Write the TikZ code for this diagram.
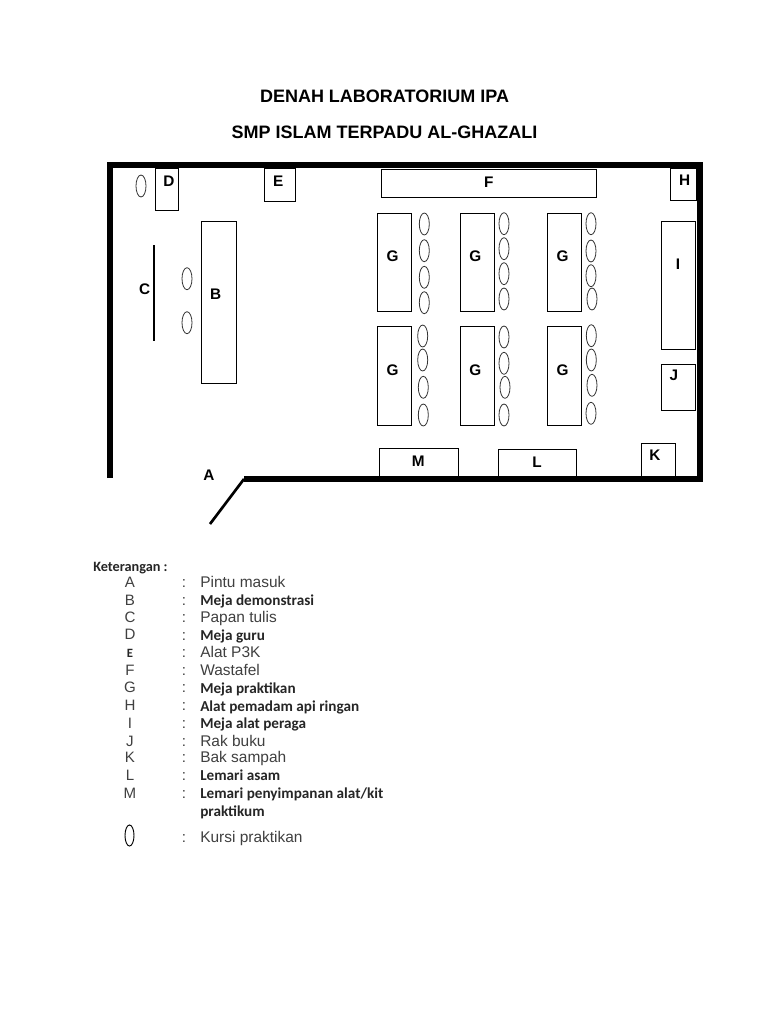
\documentclass[tikz,border=0pt]{standalone}
\usepackage{fontspec}
\setmainfont{Liberation Sans}
\newfontfamily\calib{Carlito}
\definecolor{lgtext}{gray}{0.25}
\tikzset{
  wall/.style={line width=4.5pt,line cap=butt,black},
  furn/.style={draw=black,line width=0.7pt,fill=white},
  lab/.style={font=\fontsize{11.5pt}{13pt}\selectfont\bfseries,inner sep=0pt},
  ttl/.style={font=\fontsize{13.5pt}{15pt}\selectfont\bfseries,inner sep=0pt},
  row/.style={text height=8pt,text depth=0.5pt,inner sep=0pt},
  key/.style={row,font=\fontsize{11.3pt}{13pt}\selectfont,text=lgtext},
  colon/.style={row,font=\fontsize{11.3pt}{13pt}\selectfont,text=lgtext},
  ar/.style={row,font=\fontsize{11.6pt}{13pt}\selectfont,text=lgtext,anchor=west},
  cb/.style={row,font=\calib\fontsize{11.4pt}{13pt}\selectfont\bfseries,text=black!85,anchor=west},
}
\begin{document}
\begin{tikzpicture}[x=0.75pt,y=-0.75pt]
\useasboundingbox (0,0) rectangle (768,1024);
\fill[white] (0,0) rectangle (768,1024);
% titles
\node[ttl] (t1) at (384.5,96.5) {DENAH LABORATORIUM IPA};
\node[ttl] (t2) at (384.5,132.5) {SMP ISLAM TERPADU AL-GHAZALI};
% furniture
\foreach \a/\b/\c/\d in {155/168/178.3/210.7, 264/168/295.3/201, 201.3/221/236/383, 381.3/169.3/596.7/197.3,
  377.3/213.3/411.7/311.3, 460/213.3/494.3/311.3, 547/213.3/581.3/311.3,
  377.3/326.7/411.7/425.7, 460/326.7/494.3/425.7, 547/326.7/581.3/425.7,
  670.3/168/696/200.3, 661.3/221.3/695.3/349.3, 661.3/364/695.3/410.3,
  641/443.7/675.3/477, 498.7/449.3/576.3/477, 379.3/448.3/458.3/477}
  \draw[furn] (\a,\b) rectangle (\c,\d);
% chairs
\foreach \x/\y in {141/186, 187/278.7, 187/322.7,
  424.3/224, 424.3/250.7, 424.3/277.3, 424.3/302.7,
  422.7/336, 422.7/360, 423.3/387.3, 423.3/415,
  504/223.7, 504/248.7, 504/273.7, 504/299,
  504/337, 504/363.3, 505/387.3, 504/415,
  591/223.7, 591/251, 591/275.7, 592/299,
  591.3/335.7, 591.3/360, 592/385.3, 591/413.3}
  \draw[draw=black!80,line width=0.6pt,fill=white] (\x,\y) ellipse [x radius=5,y radius=11];
% walls
\coordinate (w1) at (110.3,478);
\coordinate (w2) at (110.3,165);
\coordinate (w3) at (700,165);
\coordinate (w4) at (700,479);
\coordinate (w5) at (244,479);
\coordinate (door) at (210,524);
\draw[wall,line join=miter] (w1) -- (w2) -- (w3) -- (w4) -- (w5);
\draw[line width=2pt,black] (w5) -- (door);
% board
\coordinate (c1) at (154,245);
\coordinate (c2) at (154,340.7);
\draw[line width=2pt,black] (c1) -- (c2);
% labels
\node[lab] (la) at (209,475) {A};
\node[lab] (lb) at (215.7,294.7) {B};
\node[lab] (lc) at (144.7,289.3) {C};
\node[lab] (ld) at (169,181.7) {D};
\node[lab] (le) at (278.3,181.7) {E};
\node[lab] (lf) at (488.7,182.3) {F};
\node[lab] (lg1) at (392.7,256.7) {G};
\node[lab] (lg2) at (475.3,256.7) {G};
\node[lab] (lg3) at (562.7,256.7) {G};
\node[lab] (lg4) at (392.7,370.7) {G};
\node[lab] (lg5) at (475.3,370.7) {G};
\node[lab] (lg6) at (562.7,370.7) {G};
\node[lab] (lh) at (684.7,180.7) {H};
\node[lab] (li) at (678,264.3) {I};
\node[lab] (lj) at (674,375.7) {J};
\node[lab] (lk) at (655,455) {K};
\node[lab] (ll) at (537,462.3) {L};
\node[lab] (lm) at (418.3,461.3) {M};
% legend
\node[cb,font=\calib\fontsize{10.7pt}{13pt}\selectfont\bfseries] (ket) at (93,566) {Keterangan :};
\foreach \n/\l/\y in {a/A/582.5, b/B/600, c/C/617.5, d/D/634.5, f/F/670, g/G/687.5, h/H/705, i/I/723, j/J/741, k/K/757.5, l/L/775, m/M/793}
  \node[key] (k\n) at (130,\y) {\l};
\node[cb,anchor=center,font=\calib\fontsize{9.5pt}{10pt}\selectfont\bfseries] (ke) at (130,652.5) {E};
\foreach \n/\y in {a/582.5, b/600, c/617.5, d/635, e/652, f/670, g/687.5, h/705, i/723, j/741, k/757.5, l/775, m/793, o/837}
  \node[colon] (c\n) at (184,\y) {:};
\node[ar] (ta) at (200,582.5) {Pintu masuk};
\node[cb] (tb) at (200,600) {Meja demonstrasi};
\node[ar] (tc) at (200,617.5) {Papan tulis};
\node[cb] (td) at (200,635) {Meja guru};
\node[ar] (te) at (200,652) {Alat P3K};
\node[ar] (tf) at (200,670) {Wastafel};
\node[cb] (tg) at (200,688) {Meja praktikan};
\node[cb] (th) at (200,706) {Alat pemadam api ringan};
\node[cb] (ti) at (200,723.5) {Meja alat peraga};
\node[ar] (tj) at (200,741) {Rak buku};
\node[ar] (tk) at (200,757.5) {Bak sampah};
\node[cb] (tl) at (200,775) {Lemari asam};
\node[cb] (tm) at (200,793) {Lemari penyimpanan alat/kit};
\node[cb] (tm2) at (200,811.5) {praktikum};
\draw[black,line width=0.7pt] (129.5,835.5) ellipse [x radius=4.5,y radius=10.5];
\node[ar] (to) at (200,837) {Kursi praktikan};
\end{tikzpicture}
\end{document}
